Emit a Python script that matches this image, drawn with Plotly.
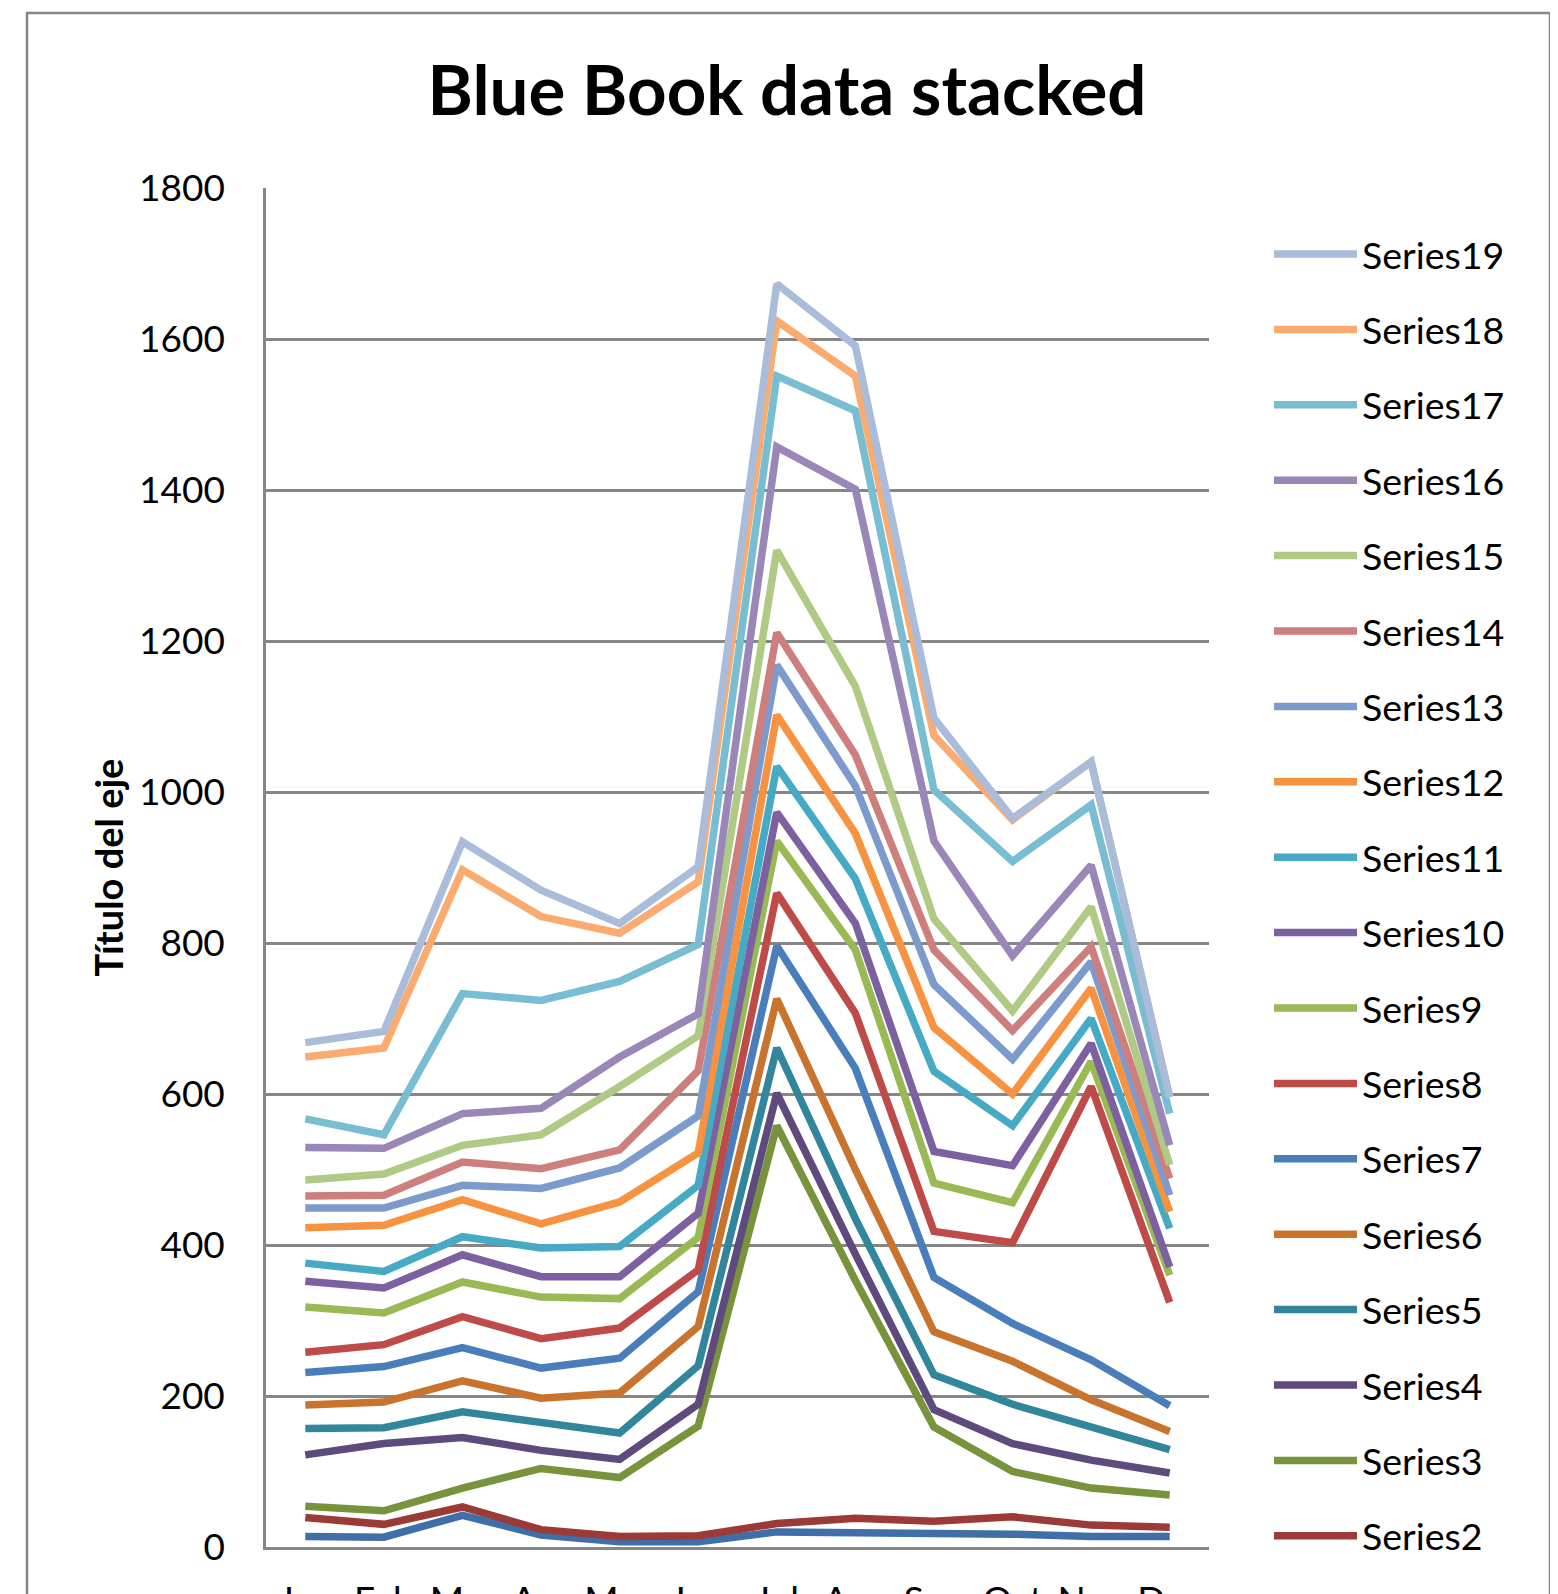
import plotly.graph_objects as go

months = ["Jan", "Feb", "Mar", "Apr", "May", "Jun", "Jul", "Aug", "Sep", "Oct", "Nov", "Dec"]

# Stacked (cumulative) values
s1 = [14, 13, 42, 16, 7, 7, 20, 20, 18, 17, 14, 14]
s2 = [39, 30, 53, 23, 14, 15, 31, 38, 34, 40, 29, 26]
s3 = [54, 48, 78, 104, 92, 160, 558, 353, 159, 100, 78, 69]
s4 = [122, 137, 145, 128, 116, 189, 601, 388, 182, 137, 115, 98]
s5 = [157, 158, 179, 164, 151, 240, 661, 435, 228, 189, 159, 129]
s6 = [188, 192, 220, 197, 204, 292, 726, 500, 285, 246, 195, 153]
s7 = [231, 239, 264, 237, 250, 338, 796, 634, 357, 296, 248, 187]
s8 = [258, 268, 305, 276, 290, 367, 866, 707, 418, 403, 610, 324]
s9 = [318, 310, 351, 331, 329, 410, 935, 791, 482, 456, 643, 360]
s10 = [352, 343, 387, 358, 358, 442, 973, 826, 524, 505, 667, 371]
s11 = [376, 365, 411, 396, 398, 479, 1034, 885, 630, 558, 700, 422]
s12 = [423, 426, 460, 428, 457, 522, 1102, 945, 688, 600, 740, 444]
s13 = [449, 449, 479, 475, 502, 571, 1168, 1008, 745, 646, 775, 466]
s14 = [465, 466, 510, 501, 526, 631, 1211, 1049, 791, 684, 795, 488]
s15 = [486, 494, 532, 546, 610, 677, 1320, 1140, 832, 710, 848, 506]
s16 = [529, 528, 574, 581, 649, 706, 1457, 1401, 935, 783, 903, 532]
s17 = [567, 546, 733, 724, 749, 798, 1551, 1505, 1003, 908, 983, 574]
s18 = [649, 661, 897, 835, 813, 881, 1624, 1551, 1075, 963, 1040, 596]
s19 = [668, 683, 934, 870, 826, 901, 1673, 1591, 1098, 965, 1040, 596]

series_values = [s1, s2, s3, s4, s5, s6, s7, s8, s9, s10, s11, s12, s13, s14, s15, s16, s17, s18, s19]
series_names = ["Series%d" % i for i in range(1, 20)]
colors = [
    "#3F6EA8", "#9B3A37", "#77933C", "#5F4A7D", "#31869B", "#C8742E",
    "#4A7EBB", "#BE4B48", "#98B954", "#7D60A0", "#46AAC5", "#F69240",
    "#7C9ACC", "#CD7F7E", "#AECA84", "#9A87B7", "#78BDD1", "#F9AB70", "#A9BCDA",
]
y_ticks = [0, 200, 400, 600, 800, 1000, 1200, 1400, 1600, 1800]

OFF = 8  # page body margin: figure sits 8px right/down of the window corner
W, H = 1558 - OFF, 1594 - OFF
L, R, T, B = 266 - OFF, 1209 - OFF, 188 - OFF, 1547 - OFF
FONT = "Lato"
GRAY = "#868686"


def px_x(px):  # px given in window (reference) coordinates
    return (px - OFF - L) / (R - L)


def px_y(py):
    return (B - (py - OFF)) / (B - T)


fig = go.Figure()
for name, vals, col in zip(series_names, series_values, colors):
    fig.add_trace(go.Scatter(
        x=months, y=vals, name=name, mode="lines",
        line=dict(color=col, width=7.5),
        showlegend=False,
    ))

shapes = []
annotations = []
# custom legend (Series19 at top, descending)
leg_top = 254
leg_step = 75.4
for i, idx in enumerate(range(len(series_names) - 1, -1, -1)):
    yy = px_y(leg_top + i * leg_step)
    shapes.append(dict(type="line", xref="paper", yref="paper",
                       x0=px_x(1274), x1=px_x(1357), y0=yy, y1=yy,
                       line=dict(color=colors[idx], width=7.5)))
    annotations.append(dict(xref="paper", yref="paper", x=px_x(1360), y=yy,
                            text=series_names[idx], showarrow=False,
                            xanchor="left", yanchor="middle",
                            font=dict(family=FONT, size=37.5, color="#000000")))

# outer chart border
shapes.append(dict(type="rect", xref="paper", yref="paper",
                   x0=px_x(27), x1=px_x(1550), y0=px_y(1700), y1=px_y(13),
                   line=dict(color=GRAY, width=2.5), layer="below"))

annotations.append(dict(xref="paper", yref="paper", x=px_x(107), y=0.5,
                        text="<b>Título del eje</b>", textangle=-90, showarrow=False,
                        xanchor="center", yanchor="middle",
                        font=dict(family=FONT, size=38, color="#000000")))

fig.update_layout(
    width=W, height=H,
    margin=dict(l=L, r=W - R, t=T, b=H - B, autoexpand=False),
    paper_bgcolor="white", plot_bgcolor="white",
    title=dict(text="<b>Blue Book data stacked</b>", x=(787 - OFF) / W, xanchor="center",
               y=1 - (91 - OFF) / H, yanchor="middle", yref="container",
               font=dict(family=FONT, size=69, color="#000000")),
    shapes=shapes, annotations=annotations,
    showlegend=False,
    xaxis=dict(type="category", range=[-0.5, 11.5], showgrid=False,
               showline=True, linecolor=GRAY, linewidth=2.5,
               ticks="", automargin=False, ticklabelstandoff=19,
               tickfont=dict(family=FONT, size=37, color="#000000")),
    yaxis=dict(range=[0, 1800], tickvals=y_ticks, showgrid=True,
               gridcolor=GRAY, gridwidth=2.5, zeroline=False,
               showline=True, linecolor=GRAY, linewidth=2.5,
               ticks="", automargin=False, ticklabelstandoff=31,
               tickfont=dict(family=FONT, size=37, color="#000000")),
)

fig.write_html("out.html")
